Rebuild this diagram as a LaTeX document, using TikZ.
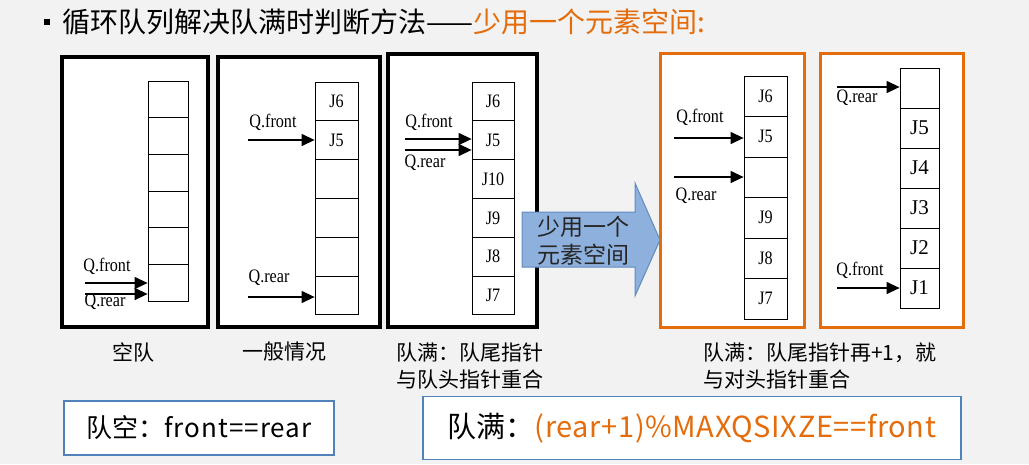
\documentclass[tikz,border=0pt]{standalone}
\usepackage{fontspec}
\setmainfont{Noto Sans CJK SC}
\newfontfamily\tnr{Liberation Serif}
\newfontfamily\tnrnarrow[FakeStretch=0.85]{Liberation Serif}
\usetikzlibrary{arrows.meta,shadows}
\definecolor{bgcol}{RGB}{242,242,242}
\definecolor{pptorange}{RGB}{228,108,10}
\definecolor{boxblue}{RGB}{79,129,189}
\definecolor{arrowfill}{RGB}{141,176,220}
\definecolor{arrowline}{RGB}{98,138,192}

\begin{document}
\begin{tikzpicture}[x=1pt, y=-1pt,
  panel/.style={fill=white, line width=3.5pt, drop shadow={shadow xshift=2pt, shadow yshift=-2pt, opacity=0.3}},
  qcell/.style={draw, line width=0.8pt, inner sep=0pt, font=\tnrnarrow\fontsize{19}{19}\selectfont},
  qlab/.style={inner sep=0pt, font=\tnrnarrow\fontsize{19}{19}\selectfont},
  ptr/.style={line width=1.3pt, -{Triangle[length=13pt, width=12pt]}},
  captxt/.style={inner sep=0pt, align=left, font=\fontsize{21}{27}\selectfont},
  qbox/.style={draw=boxblue, fill=white, line width=1.8pt, inner sep=0pt}]
  \fill[bgcol] (0,0) rectangle (1029,464);
  \useasboundingbox (0,0) rectangle (1029,464);

  \fill (44,19) rectangle (50,25);
  \node[anchor=west, inner sep=0pt, font=\fontsize{28}{28}\selectfont] (title) at (62,22)
    {循环队列解决队满时判断方法——\textcolor{pptorange}{少用一个元素空间:}};

  \draw[panel] (62,57) rectangle (208,327);
  \draw[panel] (218,57) rectangle (380,327);
  \draw[panel] (388,54) rectangle (537,327);
  \draw[panel, draw=pptorange, line width=3pt] (660,53) rectangle (804,327);
  \draw[panel, draw=pptorange, line width=3pt] (820,53) rectangle (963,327);

  % empty queue
  \foreach \i in {1,...,6}
    \node[qcell, minimum width=40pt, minimum height=36.7pt] (a\i) at (168, {81+36.7*(\i-0.5)}) {};
  \coordinate (af) at (85,283);
  \coordinate (ar) at (85,294);
  \draw[ptr] (af) -- (af -| a6.west);
  \draw[ptr] (ar) -- (ar -| a6.west);
  \node[qlab] (afl) at (107,266) {Q.front};
  \node[qlab] (arl) at (105,302) {Q.rear};

  % general case
  \foreach \t [count=\i] in {J6,J5,{},{},{},{}}
    \node[qcell, minimum width=43pt, minimum height=38.8pt] (b\i) at (336.5, {82+38.8*(\i-0.5)}) {\t};
  \coordinate (bf) at (248,140);
  \coordinate (br) at (248,297);
  \draw[ptr] (bf) -- (bf -| b2.west);
  \draw[ptr] (br) -- (br -| b6.west);
  \node[qlab] (bfl) at (273,122) {Q.front};
  \node[qlab] (brl) at (269,278) {Q.rear};

  % full, pointers meet
  \foreach \t [count=\i] in {J6,J5,J10,J9,J8,J7}
    \node[qcell, minimum width=42pt, minimum height=38.8pt] (c\i) at (493, {82+38.8*(\i-0.5)}) {\t};
  \coordinate (cf) at (405,139);
  \coordinate (cr) at (405,150);
  \draw[ptr] (cf) -- (cf -| c2.west);
  \draw[ptr] (cr) -- (cr -| c2.west);
  \node[qlab] (cfl) at (429,122) {Q.front};
  \node[qlab] (crl) at (425,163) {Q.rear};

  \draw[arrowline, fill=arrowfill, line width=1pt] (522,212) -- (635,212) -- (635,183) -- (660,240)
    -- (635,296) -- (635,267) -- (522,267) -- cycle;
  \node[align=center, inner sep=0pt, text=black!85, font=\fontsize{23}{28}\selectfont] (spare) at (583,241) {少用一个\\元素空间};

  % full, one slot kept free
  \foreach \t [count=\i] in {J6,J5,{},J9,J8,J7}
    \node[qcell, minimum width=43pt, minimum height=40.5pt] (d\i) at (765.5, {76+40.5*(\i-0.5)}) {\t};
  \coordinate (df) at (674,138);
  \coordinate (dr) at (674,177);
  \draw[ptr] (df) -- (df -| d2.west);
  \draw[ptr] (dr) -- (dr -| d3.west);
  \node[qlab] (dfl) at (700,117) {Q.front};
  \node[qlab] (drl) at (696,196) {Q.rear};

  \foreach \t [count=\i] in {{},J5,J4,J3,J2,J1}
    \node[qcell, minimum width=39pt, minimum height=40pt, font=\tnr\fontsize{21}{21}\selectfont] (e\i) at (919.5, {68+40*(\i-0.5)}) {\t};
  \coordinate (er) at (837,87);
  \coordinate (ef) at (837,288);
  \draw[ptr] (er) -- (er -| e1.west);
  \draw[ptr] (ef) -- (ef -| e6.west);
  \node[qlab] (erl) at (857,98) {Q.rear};
  \node[qlab] (efl) at (860,270) {Q.front};

  \node[captxt] (cap1) at (133,352) {空队};
  \node[captxt] (cap2) at (284,352) {一般情况};
  \node[captxt, anchor=west] (cap3) at (396,366) {队满：队尾指针\\与队头指针重合};
  \node[captxt, anchor=west] (cap4) at (703,366) {队满：队尾指针再+1，就\\与对头指针重合};

  \node[qbox, minimum width=270pt, minimum height=54pt, font=\fontsize{26}{26}\selectfont] (emptycond) at (199,428)
    {队空：\addfontfeature{LetterSpace=4}front==rear};
  \node[qbox, minimum width=538pt, minimum height=63pt, font=\fontsize{29}{29}\selectfont] (fullcond) at (692,428)
    {队满：\textcolor{pptorange}{\addfontfeature{LetterSpace=2}(rear+1)\%MAXQSIXZE==front}};
\end{tikzpicture}
\end{document}
